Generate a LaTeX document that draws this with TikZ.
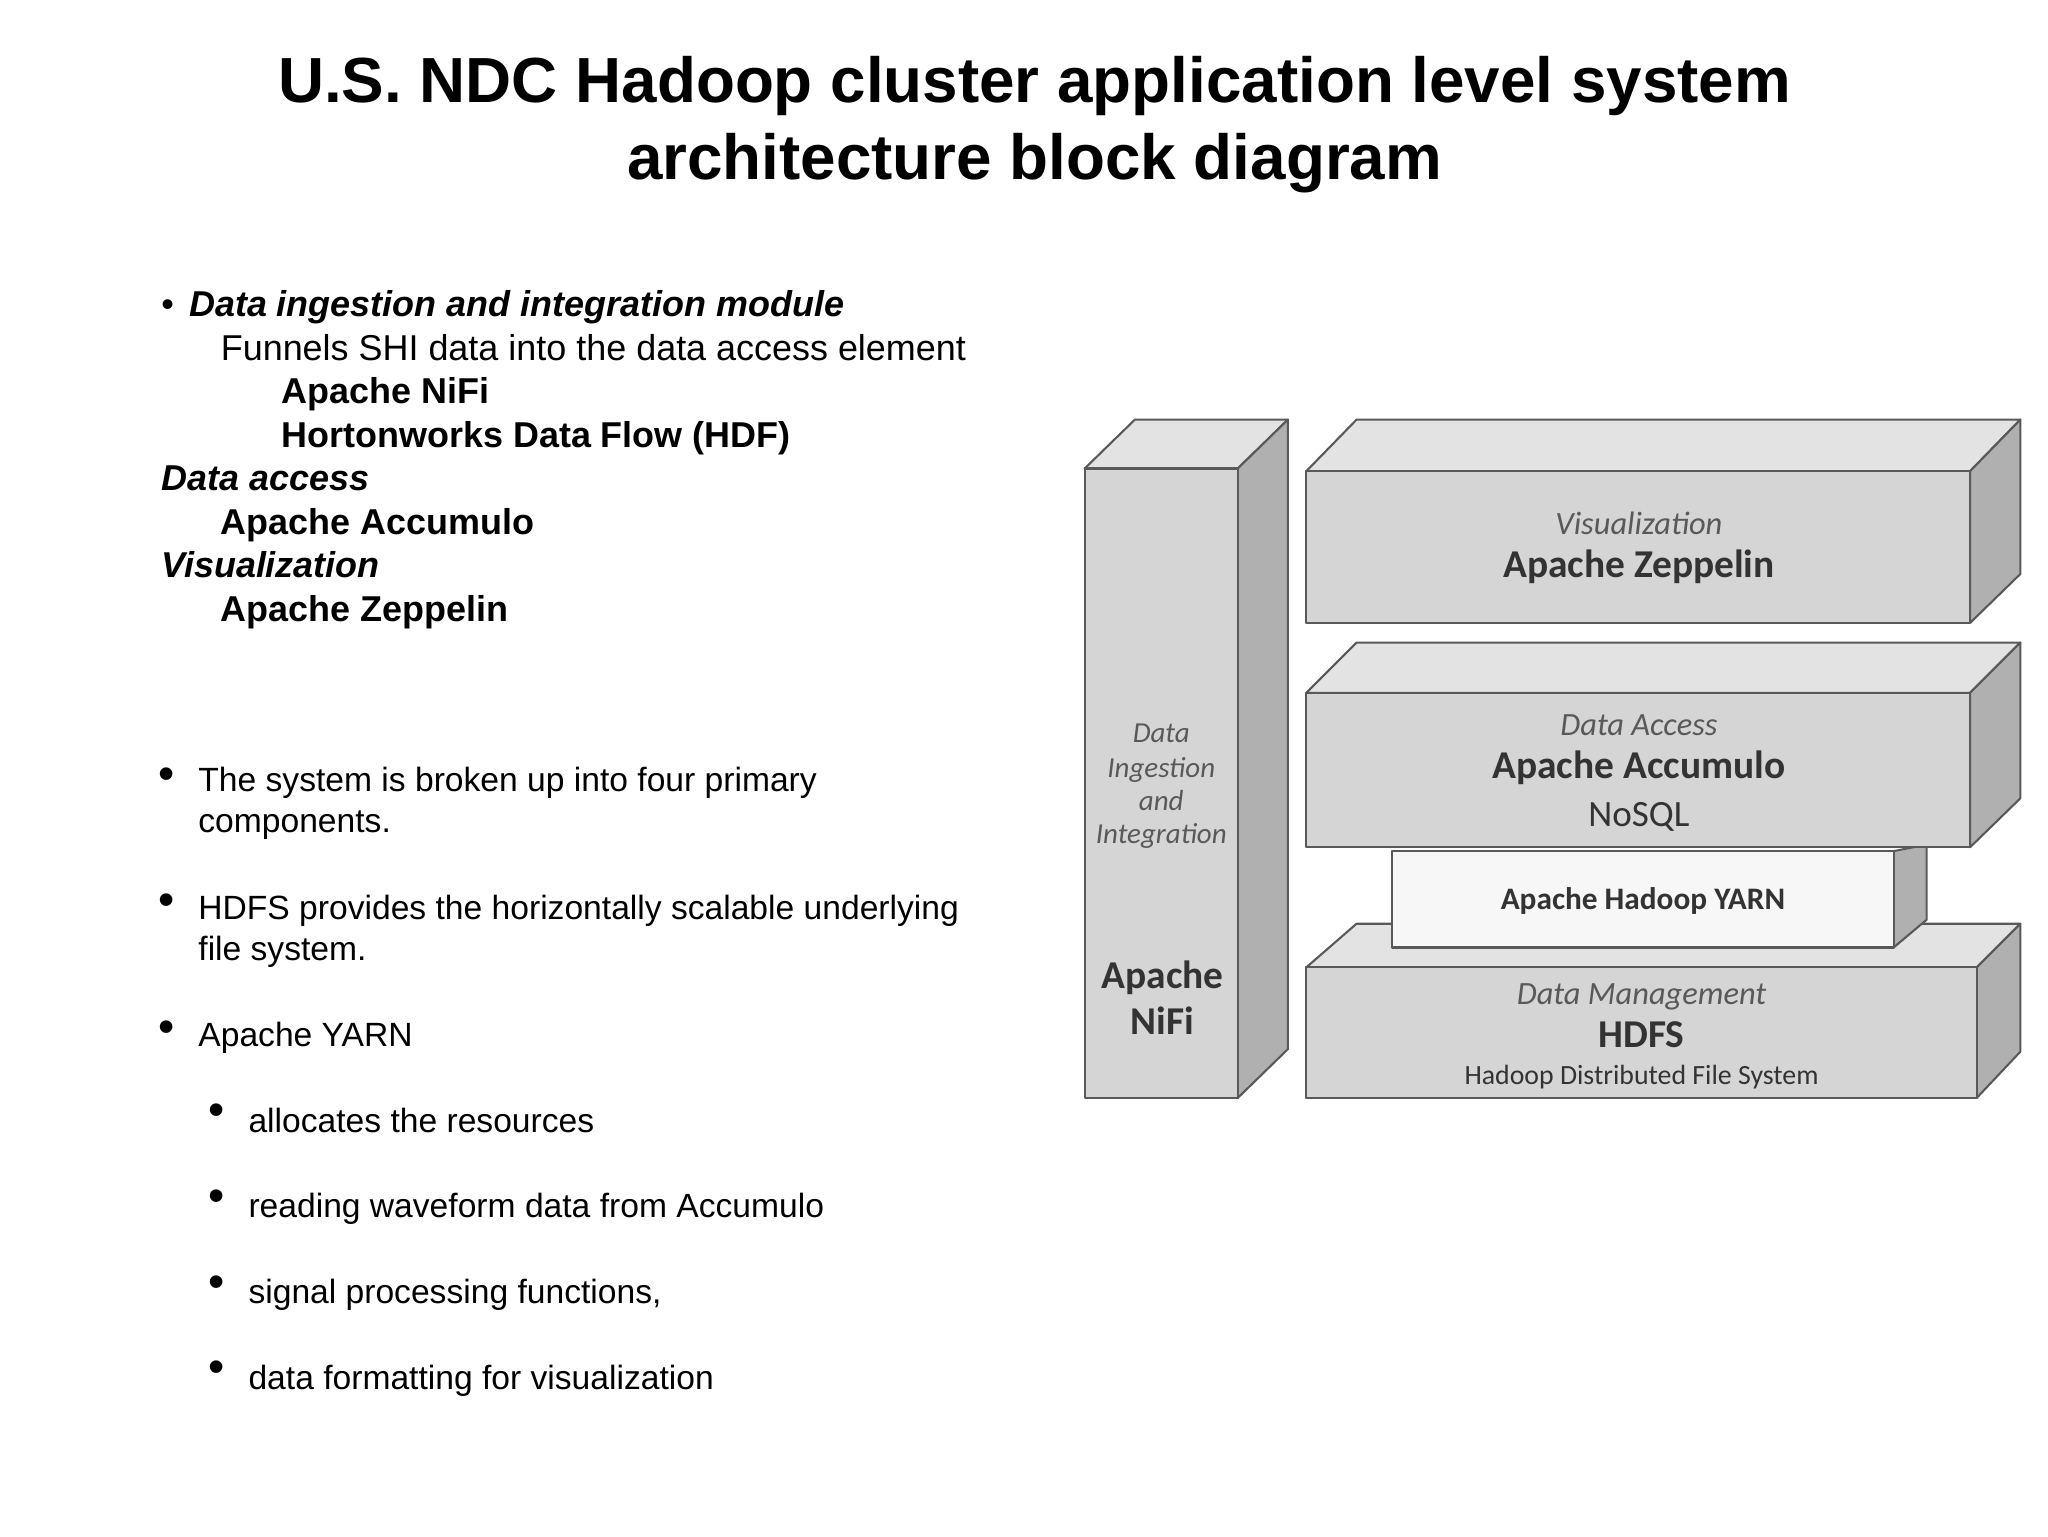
\documentclass[tikz,border=0pt]{standalone}
\usepackage{fontspec}
\setmainfont{Liberation Sans}
\newfontfamily\dgm{Carlito}
\begin{document}
\begin{tikzpicture}[x=0.02cm,y=-0.02cm,
  front/.style={fill=gray!33,draw=gray!70!black,line width=0.9pt,line join=round},
  topf/.style={fill=gray!22,draw=gray!70!black,line width=0.9pt,line join=round},
  side/.style={fill=gray!62,draw=gray!70!black,line width=0.9pt,line join=round},
  lt/.style={anchor=base west,font=\fontsize{15.5}{18}\selectfont,inner sep=0},
  dt/.style={anchor=base,font=\dgm\fontsize{13}{15}\selectfont,text=black!80,inner sep=0},
  di/.style={dt,font=\dgm\itshape\fontsize{12.5}{15}\selectfont,text=black!65},
  db/.style={dt,font=\dgm\bfseries\fontsize{15}{18}\selectfont}]
\useasboundingbox[fill=white] (0,0) rectangle (1552,1164);
% title
\node[font=\bfseries\fontsize{27.5}{33}\selectfont,anchor=base] (t1) at (784,78) {U.S. NDC Hadoop cluster application level system};
\node[font=\bfseries\fontsize{27.5}{33}\selectfont,anchor=base] (t2) at (784,136) {architecture block diagram};
% left text
\node[lt] (b0) at (122,240) {\textbullet};
\node[lt,font=\bfseries\itshape\fontsize{15.5}{18}\selectfont] (l1) at (143,240) {Data ingestion and integration module};
\node[lt] (l2) at (167,273) {Funnels SHI data into the data access element};
\node[lt,font=\bfseries\fontsize{15.5}{18}\selectfont] (l3) at (213,306) {Apache NiFi};
\node[lt,font=\bfseries\fontsize{15.5}{18}\selectfont] (l4) at (213,339) {Hortonworks Data Flow (HDF)};
\node[lt,font=\bfseries\itshape\fontsize{15.5}{18}\selectfont] (l5) at (122,372) {Data access};
\node[lt,font=\bfseries\fontsize{15.5}{18}\selectfont] (l6) at (167,405) {Apache Accumulo};
\node[lt,font=\bfseries\itshape\fontsize{15.5}{18}\selectfont] (l7) at (122,438) {Visualization};
\node[lt,font=\bfseries\fontsize{15.5}{18}\selectfont] (l8) at (167,471) {Apache Zeppelin};
\foreach \y/\t [count=\i] in {600/The system is broken up into four primary,631/components.,697/HDFS provides the horizontally scalable underlying,728/file system.,793/Apache YARN}
  \node[lt,font=\fontsize{14.5}{18}\selectfont] (m\i) at (150,\y) {\t};
\foreach \y [count=\i] in {598,694,790} \node[lt,font=\fontsize{20}{20}\selectfont] (mb\i) at (120,\y) {\textbullet};
\foreach \y/\t [count=\i] in {858/allocates the resources,923/reading waveform data from Accumulo,988/{signal processing functions,},1053/data formatting for visualization}{
  \node[lt,font=\fontsize{14.5}{18}\selectfont] (s\i) at (188,\y) {\t};
  \node[lt,font=\fontsize{20}{20}\selectfont] (sb\i) at (158,\y-5) {\textbullet};}
% NiFi column
\draw[topf] (822,355) -- (860,318) -- (976,318) -- (938,355) -- cycle;
\draw[side] (938,355) -- (976,318) -- (976,795) -- (938,832) -- cycle;
\draw[front] (822,355) rectangle (938,832);
% Visualization
\draw[topf] (990,357) -- (1028,318) -- (1531,318) -- (1493,357) -- cycle;
\draw[side] (1493,357) -- (1531,318) -- (1531,435) -- (1493,472) -- cycle;
\draw[front] (990,357) rectangle (1493,472);
% HDFS
\draw[topf] (990,733) -- (1028,700) -- (1531,700) -- (1498,733) -- cycle;
\draw[side] (1498,733) -- (1531,700) -- (1531,797) -- (1498,832) -- cycle;
\draw[front] (990,733) rectangle (1498,832);
% YARN
\draw[side] (1435,645) -- (1460,640) -- (1460,697) -- (1435,718) -- cycle;
\draw[front,fill=gray!6] (1055,645) rectangle (1435,718);
% Data access
\draw[topf] (990,525) -- (1028,487) -- (1531,487) -- (1493,525) -- cycle;
\draw[side] (1493,525) -- (1531,487) -- (1531,605) -- (1493,642) -- cycle;
\draw[front] (990,525) rectangle (1493,642);
% diagram text
\node[di] (n1) at (880,563) {Data};
\node[di] (n2) at (880,589) {Ingestion};
\node[di] (n3) at (880,614) {and};
\node[di] (n4) at (880,639) {Integration};
\node[db,font=\dgm\bfseries\fontsize{17}{20}\selectfont] (n5) at (881,749) {Apache};
\node[db,font=\dgm\bfseries\fontsize{17}{20}\selectfont] (n6) at (881,784) {NiFi};
\node[di,font=\dgm\itshape\fontsize{14}{16}\selectfont] (v1) at (1242,405) {Visualization};
\node[db,font=\dgm\bfseries\fontsize{17}{20}\selectfont] (v2) at (1242,438) {Apache Zeppelin};
\node[di,font=\dgm\itshape\fontsize{14}{16}\selectfont] (a1) at (1242,557) {Data Access};
\node[db,font=\dgm\bfseries\fontsize{17}{20}\selectfont] (a2) at (1242,590) {Apache Accumulo};
\node[dt,font=\dgm\fontsize{16}{20}\selectfont] (a3) at (1242,626) {NoSQL};
\node[db,font=\dgm\bfseries\fontsize{13.5}{16}\selectfont] (y1) at (1245,689) {Apache Hadoop YARN};
\node[di,font=\dgm\itshape\fontsize{14}{16}\selectfont] (h1) at (1244,761) {Data Management};
\node[db,font=\dgm\bfseries\fontsize{17}{20}\selectfont] (h2) at (1244,794) {HDFS};
\node[dt,font=\dgm\fontsize{12}{14}\selectfont] (h3) at (1244,822) {Hadoop Distributed File System};
\end{tikzpicture}
\end{document}
